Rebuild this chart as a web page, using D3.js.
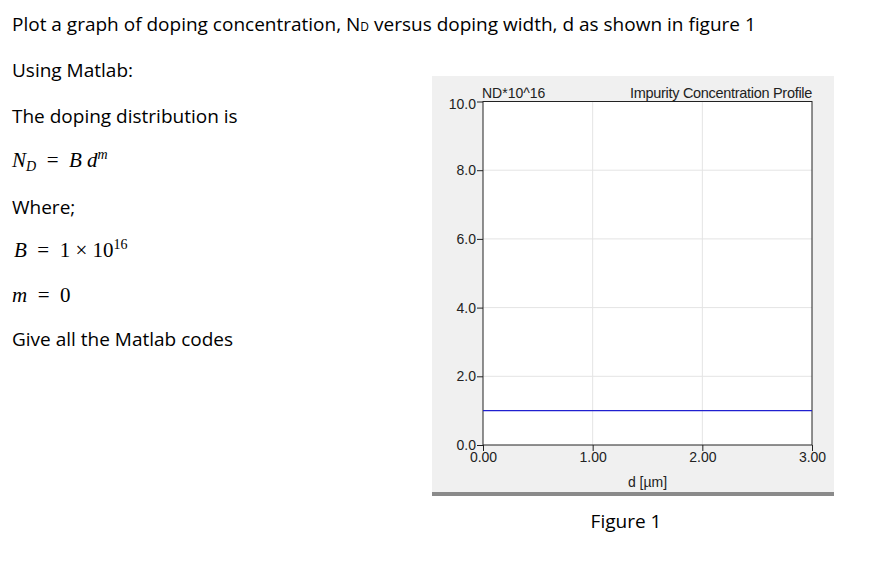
<!DOCTYPE html>
<html><head><meta charset="utf-8">
<script src="https://cdn.jsdelivr.net/npm/d3@7"></script>
<style>body{margin:0;background:#fff}</style></head>
<body><svg id="c" width="873" height="573"></svg>
<script>
const xTicks=[0,1,2,3];
const yTicks=[0,2,4,6,8,10];
const dVals=[0,3];
const ndVals=[1,1];
const svg=d3.select("#c");
const body="'Open Sans', 'Noto Sans', sans-serif";
const S="\u00a0";
function t(x,y,s,f,sz,st){return svg.append("text").attr("x",x).attr("y",y).attr("font-family",f||body).attr("font-size",sz||19).attr("font-style",st||"normal").attr("fill","#000").text(s);}
const p=t(12,31,"Plot a graph of doping concentration, N");
p.append("tspan").attr("font-size",12).text("D");
p.append("tspan").text(" versus doping width, d as shown in figure 1");
t(12,77,"Using Matlab:");
t(12,123,"The doping distribution is");
const n=t(12,167,"N","Liberation Serif",21,"italic");
n.append("tspan").attr("font-size",14).attr("dy",4).text("D");
n.append("tspan").attr("dy",-4).attr("font-style","normal").text(S+S+"="+S+S);
n.append("tspan").text("B"+S+"d");
n.append("tspan").attr("font-size",14).attr("dy",-8).text("m");
t(12,214,"Where;");
const b=t(14,257,"B","Liberation Serif",21,"italic");
b.append("tspan").attr("font-style","normal").text(S+S+"="+S+S+"1"+S+"×"+S+"10");
b.append("tspan").attr("font-style","normal").attr("font-size",14).attr("dy",-8).text("16");
const m=t(12,302,"m","Liberation Serif",21,"italic");
m.append("tspan").attr("font-style","normal").text(S+S+"="+S+S+"0");
t(12,346,"Give all the Matlab codes");
t(626,528,"Figure 1").attr("text-anchor","middle");

svg.append("rect").attr("x",432).attr("y",76).attr("width",402).attr("height",418).attr("fill","#f0f0f0");
svg.append("rect").attr("x",432).attr("y",492).attr("width",402).attr("height",4).attr("fill","#8a8a8a");
const L=483,R=812,T=101.5,B=445;
const x=d3.scaleLinear().domain([0,3]).range([L,R]);
const y=d3.scaleLinear().domain([0,10]).range([B,T]);
svg.append("rect").attr("x",L).attr("y",T).attr("width",R-L).attr("height",B-T).attr("fill","#fff");
const g=svg.append("g");
g.selectAll(".vx").data(xTicks.slice(1,-1)).join("line").attr("x1",d=>x(d)).attr("x2",d=>x(d)).attr("y1",T).attr("y2",B).attr("stroke","#e4e4e4");
g.selectAll(".hy").data(yTicks.slice(1,-1)).join("line").attr("y1",d=>y(d)).attr("y2",d=>y(d)).attr("x1",L).attr("x2",R).attr("stroke","#e4e4e4");
svg.append("rect").attr("x",L).attr("y",T).attr("width",R-L).attr("height",B-T).attr("fill","none").attr("stroke","#222").attr("stroke-width",1);
const af="'Liberation Sans', Arial, sans-serif";
const xa=svg.append("g").attr("transform",`translate(0,${B})`).call(d3.axisBottom(x).tickValues(xTicks).tickFormat(d3.format(".2f")).tickSize(6).tickPadding(1));
const ya=svg.append("g").attr("transform",`translate(${L},0)`).call(d3.axisLeft(y).tickValues(yTicks).tickFormat(d3.format(".1f")).tickSize(6).tickPadding(1));
[xa,ya].forEach(a=>{a.select(".domain").remove();a.selectAll("text").attr("font-family",af).attr("font-size",14).attr("fill","#222");a.selectAll("line").attr("stroke","#222");});
ya.selectAll(".tick").filter(d=>d===10).select("text").attr("dy","0.5em");
svg.append("text").attr("x",(L+R)/2).attr("y",487).attr("text-anchor","middle").attr("font-family",af).attr("font-size",14).attr("fill","#222").text("d [µm]");
svg.append("text").attr("x",482).attr("y",98).attr("font-family",af).attr("font-size",14).attr("fill","#222").text("ND*10^16");
svg.append("text").attr("x",812).attr("y",98).attr("text-anchor","end").attr("font-family",af).attr("font-size",14.5).attr("letter-spacing",-0.3).attr("fill","#222").text("Impurity Concentration Profile");
svg.append("path").datum(dVals.map((d,i)=>[d,ndVals[i]])).attr("d",d3.line().x(d=>x(d[0])).y(d=>y(d[1]))).attr("stroke","#2020d0").attr("stroke-width",1.2).attr("fill","none");
</script></body></html>
